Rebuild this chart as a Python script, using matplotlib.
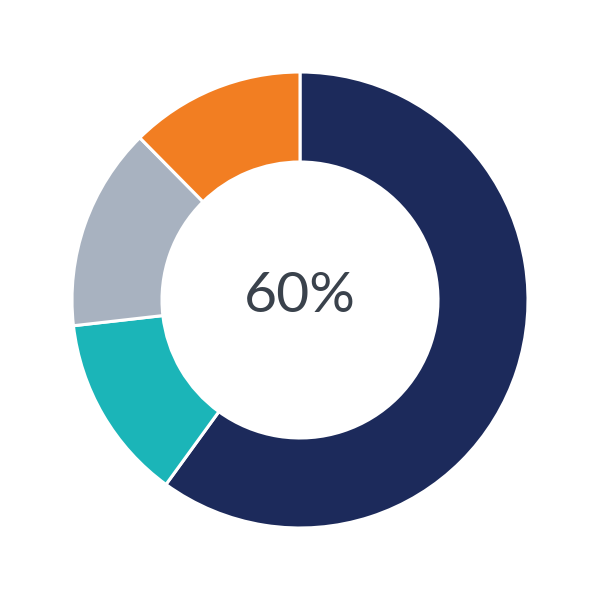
import matplotlib
matplotlib.use("Agg")
import matplotlib.pyplot as plt

# Segment shares, clockwise from 12 o'clock
labels = ["Navy", "Teal", "Gray", "Orange"]
values = [60, 13.2, 14.4, 12.4]
colors = ["#1c2a5b", "#1bb5b8", "#a8b2c0", "#f27e22"]
center_label = "60%"

fig = plt.figure(figsize=(6, 6), dpi=100)
ax = fig.add_axes([0, 0, 1, 1])

ax.pie(values, colors=colors, startangle=90, counterclock=False,
       radius=228, center=(0, 0), frame=True,
       wedgeprops=dict(width=90, edgecolor="white", linewidth=2.2))
ax.set_xlim(-300, 300)
ax.set_ylim(-300, 300)
ax.set_aspect("equal")
ax.axis("off")

ax.text(0, 4, center_label, ha="center", va="center", fontsize=41,
        family="Lato", fontweight="normal", color="#3a424c")

fig.savefig("out.png", dpi=100)
